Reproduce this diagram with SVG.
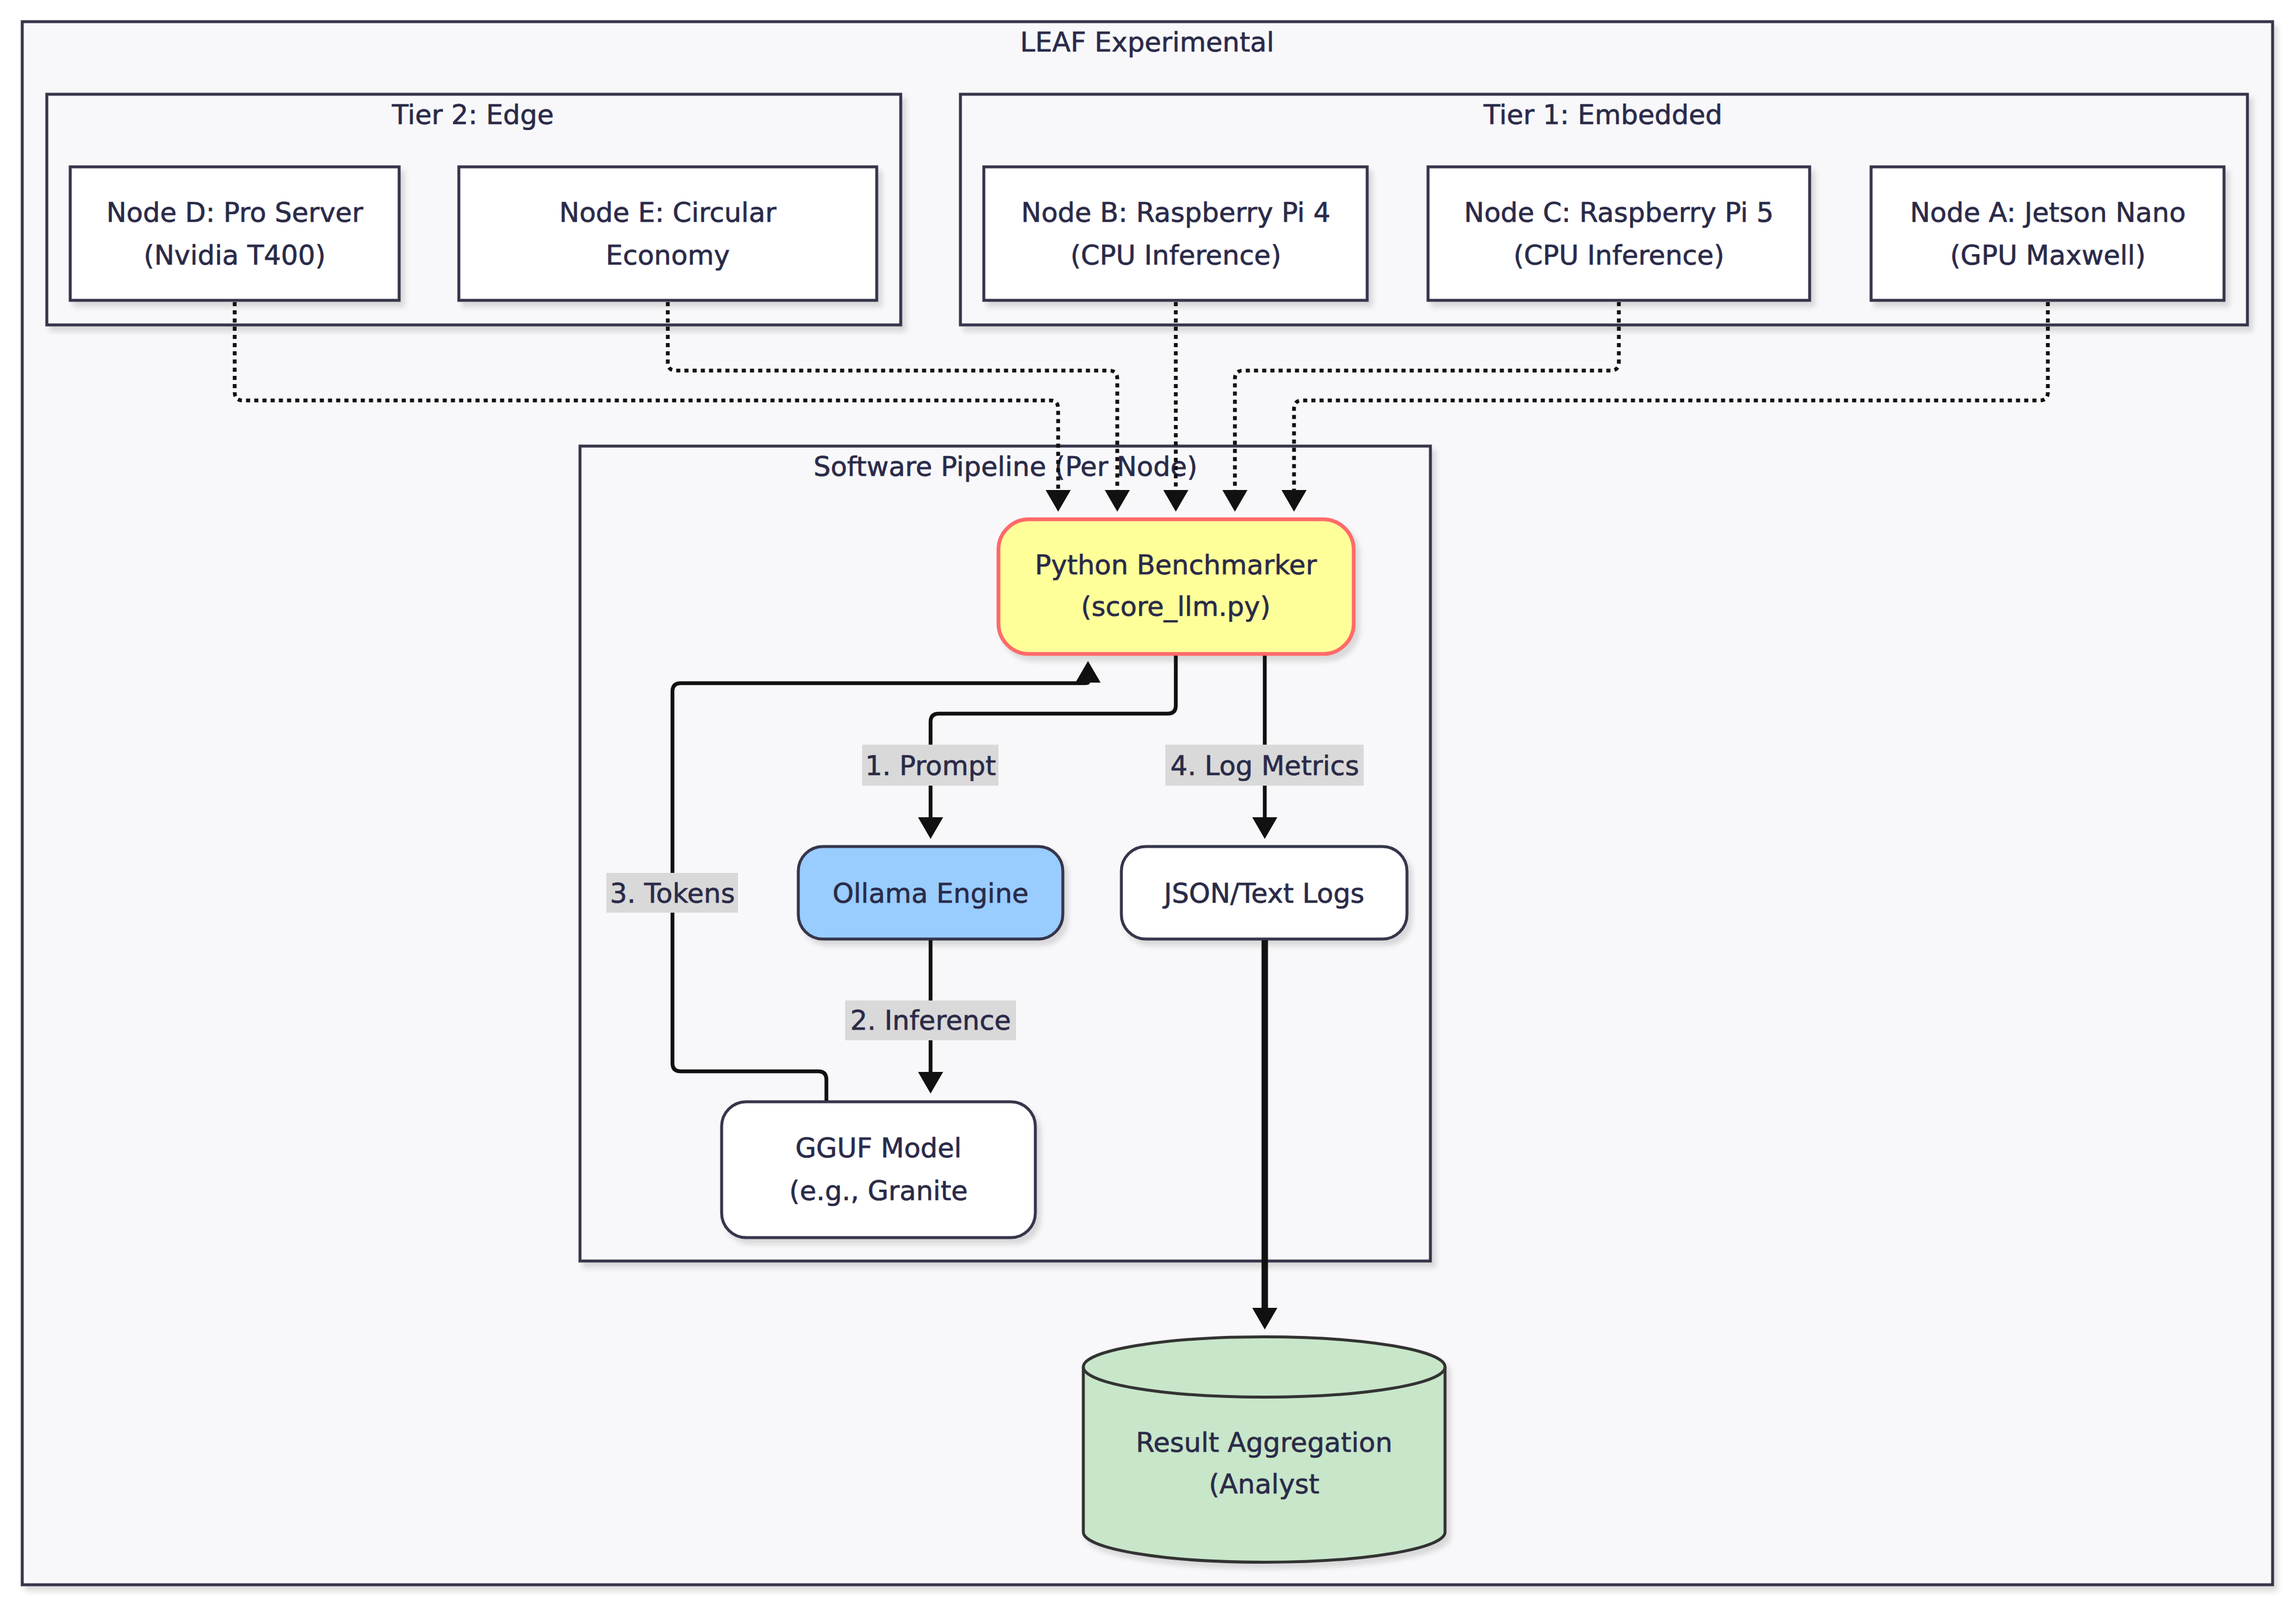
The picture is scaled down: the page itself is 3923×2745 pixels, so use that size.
<svg xmlns="http://www.w3.org/2000/svg" width="3923" height="2745" viewBox="0 0 3923 2745">
<defs>
<style>
.t{font-family:"DejaVu Sans","Liberation Sans",sans-serif;font-size:46px;fill:#2a2a48;stroke:#2a2a48;stroke-width:0.7;text-anchor:middle}
.cl{fill:#f8f8fa;stroke:#34344c;stroke-width:5}
.nd{fill:#ffffff;stroke:#34344c;stroke-width:5}
.sh{filter:url(#ds)}
.dot{fill:none;stroke:#111;stroke-width:6.5;stroke-dasharray:7 7}
.ln{fill:none;stroke:#111;stroke-width:6.5}
.lb{fill:#d9d9d9}
</style>
<filter id="ds" x="-10%" y="-10%" width="130%" height="140%">
<feDropShadow dx="7" dy="9" stdDeviation="4" flood-color="#000" flood-opacity="0.13"/>
</filter>
<marker id="ah" viewBox="0 0 37 43" refX="0" refY="21.5" markerWidth="37" markerHeight="43" markerUnits="userSpaceOnUse" orient="auto">
<path d="M0,0 L37,21.5 L0,43 z" fill="#111"/>
</marker>
</defs>
<rect x="0" y="0" width="3923" height="2745" fill="#ffffff"/>

<g id="cluster-leaf">
<rect class="cl sh" x="38" y="37" width="3845" height="2670"/>
<text class="t" x="1960" y="88">LEAF Experimental</text>
</g>
<g id="cluster-tier2">
<rect class="cl sh" x="80" y="161" width="1459" height="394"/>
<text class="t" x="808" y="212">Tier 2: Edge</text>
</g>
<g id="cluster-tier1">
<rect class="cl sh" x="1641" y="161" width="2199" height="394"/>
<text class="t" x="2739" y="212">Tier 1: Embedded</text>
</g>
<g id="cluster-pipeline">
<rect class="cl sh" x="991" y="762" width="1453" height="1392"/>
<text class="t" x="1718" y="813">Software Pipeline (Per Node)</text>
</g>

<g id="node-d">
<rect class="nd sh" x="120" y="285" width="562" height="228"/>
<text class="t" x="401" y="379">Node D: Pro Server</text>
<text class="t" x="401" y="452">(Nvidia T400)</text>
</g>
<g id="node-e">
<rect class="nd sh" x="784" y="285" width="714" height="228"/>
<text class="t" x="1141" y="379">Node E: Circular</text>
<text class="t" x="1141" y="452">Economy</text>
</g>
<g id="node-b">
<rect class="nd sh" x="1681" y="285" width="655" height="228"/>
<text class="t" x="2009" y="379">Node B: Raspberry Pi 4</text>
<text class="t" x="2009" y="452">(CPU Inference)</text>
</g>
<g id="node-c">
<rect class="nd sh" x="2440" y="285" width="652" height="228"/>
<text class="t" x="2766" y="379">Node C: Raspberry Pi 5</text>
<text class="t" x="2766" y="452">(CPU Inference)</text>
</g>
<g id="node-a">
<rect class="nd sh" x="3197" y="285" width="603" height="228"/>
<text class="t" x="3499" y="379">Node A: Jetson Nano</text>
<text class="t" x="3499" y="452">(GPU Maxwell)</text>
</g>

<g id="node-python">
<rect class="sh" x="1706" y="887" width="607" height="230" rx="52" ry="52" fill="#ffff99" stroke="#ff6b6b" stroke-width="6.5"/>
<text class="t" x="2009" y="981">Python Benchmarker</text>
<text class="t" x="2009" y="1052">(score_llm.py)</text>
</g>
<g id="node-ollama">
<rect class="sh" x="1364" y="1446" width="452" height="158" rx="42" ry="42" fill="#99ccff" stroke="#34344c" stroke-width="5"/>
<text class="t" x="1590" y="1542">Ollama Engine</text>
</g>
<g id="node-json">
<rect class="nd sh" x="1916" y="1446" width="488" height="158" rx="42" ry="42"/>
<text class="t" x="2160" y="1542">JSON/Text Logs</text>
</g>
<g id="node-gguf">
<rect class="nd sh" x="1233" y="1882" width="536" height="232" rx="42" ry="42"/>
<text class="t" x="1501" y="1977">GGUF Model</text>
<text class="t" x="1501" y="2050">(e.g., Granite</text>
</g>
<g id="node-result">
<path class="sh" d="M1851,2335 A309,51.5 0 0 1 2469,2335 V2617 A309,51.5 0 0 1 1851,2617 Z" fill="#c8e6c9" stroke="#333" stroke-width="5"/>
<path d="M1851,2335 A309,51.5 0 0 0 2469,2335" fill="none" stroke="#333" stroke-width="5"/>
<text class="t" x="2160" y="2480">Result Aggregation</text>
<text class="t" x="2160" y="2551">(Analyst</text>
</g>

<g id="connectors">
<path class="dot" marker-end="url(#ah)" d="M401,516 V670 Q401,684 415,684 H1794 Q1808,684 1808,698 V837"/>
<path class="dot" marker-end="url(#ah)" d="M1141,516 V619 Q1141,633 1155,633 H1895 Q1909,633 1909,647 V837"/>
<path class="dot" marker-end="url(#ah)" d="M2009,516 V837"/>
<path class="dot" marker-end="url(#ah)" d="M2766,516 V619 Q2766,633 2752,633 H2124 Q2110,633 2110,647 V837"/>
<path class="dot" marker-end="url(#ah)" d="M3499,516 V670 Q3499,684 3485,684 H2225 Q2211,684 2211,698 V837"/>

<path class="ln" marker-end="url(#ah)" d="M2009,1120 V1205 Q2009,1219 1995,1219 H1604 Q1590,1219 1590,1233 V1396"/>
<path class="ln" marker-end="url(#ah)" d="M2161,1120 V1396"/>
<path class="ln" marker-end="url(#ah)" d="M1590,1606 V1831"/>
<path class="ln" marker-end="url(#ah)" d="M1412,1880 V1844 Q1412,1830 1398,1830 H1163 Q1149,1830 1149,1816 V1181 Q1149,1167 1163,1167 H1848 Q1859,1167 1859,1166"/>
<path fill="none" stroke="#111" stroke-width="11" marker-end="url(#ah)" d="M2161,1606 V2234"/>

<g id="edge-labels">
<rect class="lb" x="1473" y="1272" width="233" height="70"/>
<text class="t" x="1590" y="1324">1. Prompt</text>
<rect class="lb" x="1991" y="1272" width="339" height="70"/>
<text class="t" x="2161" y="1324">4. Log Metrics</text>
<rect class="lb" x="1036" y="1491" width="225" height="68"/>
<text class="t" x="1149" y="1542">3. Tokens</text>
<rect class="lb" x="1444" y="1709" width="292" height="68"/>
<text class="t" x="1590" y="1759">2. Inference</text>
</g>
</g>
</svg>
